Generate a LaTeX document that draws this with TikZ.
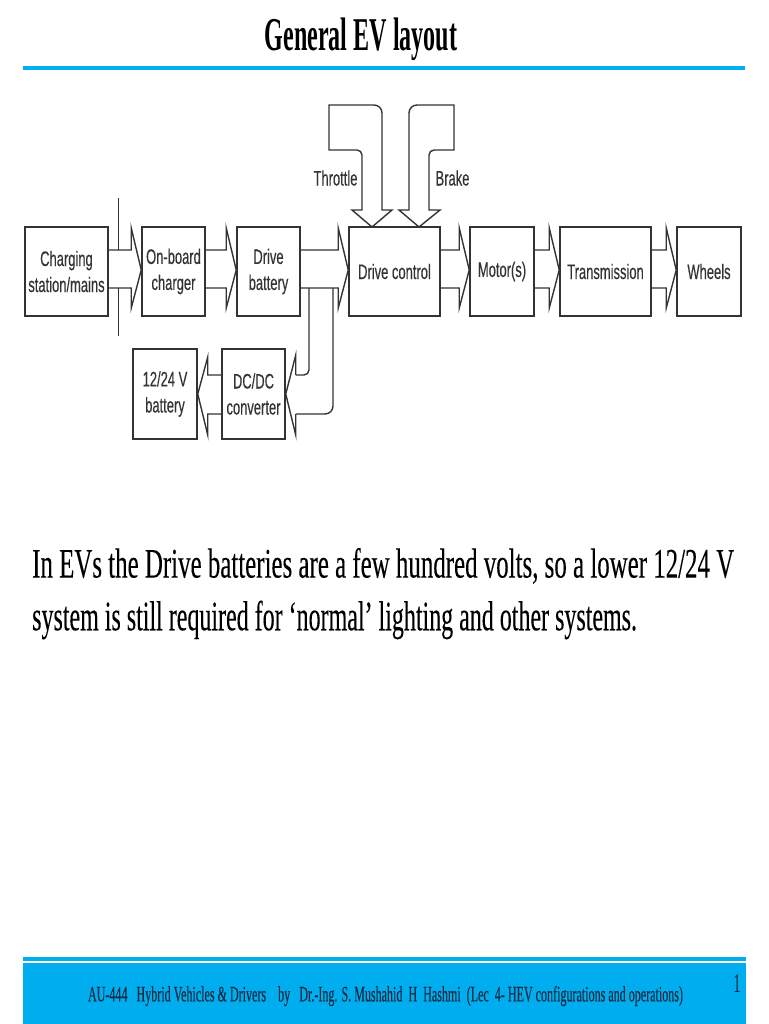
\documentclass[tikz,border=0pt]{standalone}
\usepackage{fontspec}
\setmainfont{Liberation Serif}
\newfontfamily\titlefont[FakeStretch=0.512]{Liberation Serif}
\newfontfamily\bodyfont[FakeStretch=0.593,FakeBold=0.15]{Liberation Serif}
\newfontfamily\bodyfontb[FakeStretch=0.571,FakeBold=0.15]{Liberation Serif}
\newfontfamily\footfont[FakeStretch=0.548,FakeBold=0.1]{Liberation Serif}
\newfontfamily\pagefont[FakeStretch=0.55]{Liberation Serif}
\newfontfamily\sansnarrow[FakeStretch=0.617,FakeBold=0.3]{Liberation Sans}
\definecolor{slideblue}{HTML}{00AEEF}
\definecolor{ink}{HTML}{333333}
\definecolor{footink}{HTML}{0B2A40}
\tikzset{
  blockbox/.style={draw=ink,line width=1.5pt,fill=white,inner sep=0pt,align=center,
    font=\sansnarrow\fontsize{21}{26}\selectfont,text=ink},
  conn/.style={draw=ink,line width=1.4pt,line join=miter},
  lbl/.style={inner sep=0pt,font=\sansnarrow\fontsize{21}{26}\selectfont,text=ink},
  bodytext/.style={inner sep=0pt,anchor=west},
}
% block arrow running rightwards from box #1 to box #2
\newcommand{\rarrow}[2]{%
  \draw[conn] (#1.east |- up) -- ($(#2.west |- up)+(-10,0)$) -- ($(#2.west |- up)+(-10,-22)$)
    -- (#2.west |- tip) -- ($(#2.west |- low)+(-10,20)$) -- ($(#2.west |- low)+(-10,0)$) -- (#1.east |- low);}
\usetikzlibrary{calc}
\begin{document}
\begin{tikzpicture}[x=1pt,y=-1pt]
\useasboundingbox (0,0) rectangle (768,1024);
% coordinates of the arrows' rails
\coordinate (up) at (0,250);
\coordinate (low) at (0,288);
\coordinate (tip) at (0,270);
\coordinate (up2) at (0,375);
\coordinate (low2) at (0,414);
\coordinate (tip2) at (0,394);
% title
\node[inner sep=0pt,font=\titlefont\bfseries\fontsize{47}{50}\selectfont] (title) at (361,39) {General EV layout};
\fill[slideblue] (23,66) rectangle (745,70);
% boxes
\node[blockbox,minimum width=83pt,minimum height=89pt] (charge) at (66.5,271.5) {Charging\\station/mains};
\node[blockbox,minimum width=63pt,minimum height=89pt] (charger) at (173.5,271.5) {On-board\\charger};
\node[blockbox,minimum width=63pt,minimum height=89pt] (drive) at (268.5,271.5) {Drive\\battery};
\node[blockbox,minimum width=91pt,minimum height=89pt] (control) at (394.5,271.5) {Drive control};
\node[blockbox,minimum width=64pt,minimum height=89pt] (motor) at (502,271.5) {Motor(s)};
\node[blockbox,minimum width=91pt,minimum height=89pt] (trans) at (605.5,271.5) {Transmission};
\node[blockbox,minimum width=64pt,minimum height=89pt] (wheels) at (709,271.5) {Wheels};
\node[blockbox,minimum width=64pt,minimum height=90pt] (batt) at (165,394) {12/24 V\\battery};
\node[blockbox,minimum width=63pt,minimum height=90pt] (dcdc) at (253.5,394) {DC/DC\\converter};
% horizontal block arrows
\rarrow{charge}{charger}
\rarrow{charger}{drive}
\rarrow{drive}{control}
\rarrow{control}{motor}
\rarrow{motor}{trans}
\rarrow{trans}{wheels}
% plug-in break line
\coordinate (brk) at (118,198);
\coordinate (brkb) at (118,336);
\draw[conn,line width=1pt] (brk) -- (brk |- up);
\draw[conn,line width=1pt] (brk |- low) -- (brkb);
% DC/DC output
\draw[conn] (dcdc.west |- up2) -- ($(batt.east |- up2)+(10,0)$) -- ($(batt.east |- up2)+(10,-18)$)
  -- (batt.east |- tip2) -- ($(batt.east |- low2)+(10,21)$) -- ($(batt.east |- low2)+(10,0)$) -- (dcdc.west |- low2);
% feed from the drive battery rails to the DC/DC converter
\coordinate (f1) at (309,288);
\coordinate (f2) at (333,288);
\draw[conn,rounded corners=5pt] (f1) -- (f1 |- up2) -- ($(dcdc.east |- up2)+(10,0)$);
\draw[conn,rounded corners=8pt] (f2) -- (f2 |- low2) -- ($(dcdc.east |- low2)+(10,0)$);
\draw[conn] ($(dcdc.east |- up2)+(10,0)$) -- ($(dcdc.east |- up2)+(10,-20)$)
  -- (dcdc.east |- tip2) -- ($(dcdc.east |- low2)+(10,21)$) -- ($(dcdc.east |- low2)+(10,0)$);
% throttle and brake arrows
\coordinate (thA) at (372,227);
\coordinate (brA) at (419,227);
\draw[conn,rounded corners=0pt] (thA) -- (392,210) -- (382,210)
  [rounded corners=8pt] -- (382,105) [rounded corners=0pt] -- (329,105) -- (329,150)
  [rounded corners=5pt] -- (362,150) [rounded corners=0pt] -- (362,210) -- (352,210) -- cycle;
\draw[conn,rounded corners=0pt] (brA) -- (399,210) -- (409,210)
  [rounded corners=8pt] -- (409,105) [rounded corners=0pt] -- (454,105) -- (454,150)
  [rounded corners=5pt] -- (429,150) [rounded corners=0pt] -- (429,210) -- (440,210) -- cycle;
\node[lbl] (throttle) at (335.5,178) {Throttle};
\node[lbl] (brake) at (452.5,178) {Brake};
% body text
\node[bodytext,font=\bodyfont\fontsize{42}{54}\selectfont] (body1) at (32,566) {In EVs the Drive batteries are a few hundred volts, so a lower 12/24 V};
\node[bodytext,font=\bodyfontb\fontsize{42}{54}\selectfont] (body2) at (32,620) {system is still required for ‘normal’ lighting and other systems.};
% footer
\fill[slideblue] (23,957) rectangle (746,961);
\fill[slideblue] (23,963) rectangle (746,1024);
\node[inner sep=0pt,font=\footfont\fontsize{22}{24}\selectfont,text=footink] (foot) at (385.5,996) {AU-444\ \ \ Hybrid Vehicles \& Drivers\ \ \ \ by\ \ \ Dr.-Ing. S. Mushahid\ \ H\ \ Hashmi\ \ (Lec\ \ 4- HEV configurations and operations)};
\node[inner sep=0pt,font=\pagefont\fontsize{27}{30}\selectfont,text=footink] (page) at (737,984) {1};
\end{tikzpicture}
\end{document}
